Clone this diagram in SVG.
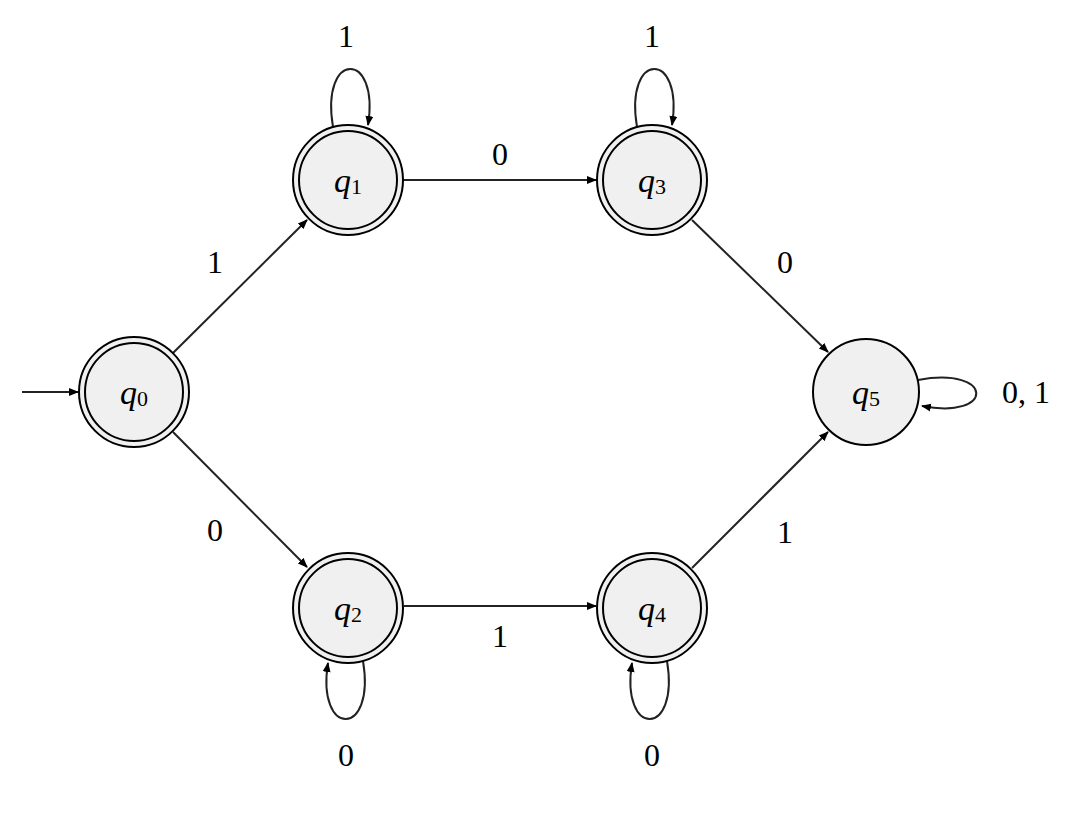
<svg xmlns="http://www.w3.org/2000/svg" width="1083" height="827" viewBox="0 0 1083 827">
<style>
.st{fill:#f0f0f0;stroke:#000;stroke-width:2}
.in{fill:none;stroke:#000;stroke-width:2}
.e{fill:none;stroke:#222;stroke-width:2;marker-end:url(#a)}
text{font-family:"Liberation Serif",serif;font-size:32px;text-anchor:middle;dominant-baseline:central}
.q{font-style:italic;font-size:34px}
.s{font-style:normal;font-size:22px}
</style>
<defs><marker id="a" viewBox="0 0 10 10" refX="9" refY="5" markerWidth="5" markerHeight="5" orient="auto"><path d="M0,1 L10,5 L0,9 z" fill="#000"/></marker></defs>
<rect width="1083" height="827" fill="#fff"/>
<g id="connectors">
<path class="e" d="M22,392 L78,392"/>
<path class="e" d="M173,353 L307,220"/>
<path class="e" d="M404,180 L596,180"/>
<path class="e" d="M692,220 L828,352"/>
<path class="e" d="M173,432 L307,567"/>
<path class="e" d="M404,606 L596,606"/>
<path class="e" d="M692,568 L828,432"/>
<path class="e" d="M333,127 C320,50 380,50 368,125"/>
<path class="e" d="M637,127 C624,50 684,50 672,125"/>
<path class="e" d="M363,661 C376,738 316,738 328,663"/>
<path class="e" d="M667,661 C680,738 620,738 632,663"/>
<path class="e" d="M918,380 C995,366 995,420 922,406"/>
<text x="215" y="262">1</text><text x="500" y="154">0</text><text x="785" y="262">0</text>
<text x="215" y="530">0</text><text x="500" y="636">1</text><text x="785" y="532">1</text>
<text x="346" y="36">1</text><text x="652" y="36">1</text>
<text x="346" y="755">0</text><text x="652" y="755">0</text>
<text x="1026" y="392">0, 1</text>
</g>
<g id="q0"><circle class="st" cx="134" cy="392" r="55"/><circle class="in" cx="134" cy="392" r="49"/><text class="q" x="134" y="392">q<tspan class="s" dy="6">0</tspan></text></g>
<g id="q1"><circle class="st" cx="348" cy="180" r="55"/><circle class="in" cx="348" cy="180" r="49"/><text class="q" x="348" y="180">q<tspan class="s" dy="6">1</tspan></text></g>
<g id="q3"><circle class="st" cx="652" cy="180" r="55"/><circle class="in" cx="652" cy="180" r="49"/><text class="q" x="652" y="180">q<tspan class="s" dy="6">3</tspan></text></g>
<g id="q2"><circle class="st" cx="348" cy="608" r="55"/><circle class="in" cx="348" cy="608" r="49"/><text class="q" x="348" y="608">q<tspan class="s" dy="6">2</tspan></text></g>
<g id="q4"><circle class="st" cx="652" cy="608" r="55"/><circle class="in" cx="652" cy="608" r="49"/><text class="q" x="652" y="608">q<tspan class="s" dy="6">4</tspan></text></g>
<g id="q5"><circle class="st" cx="866" cy="392" r="53"/><text class="q" x="866" y="392">q<tspan class="s" dy="6">5</tspan></text></g>
</svg>
